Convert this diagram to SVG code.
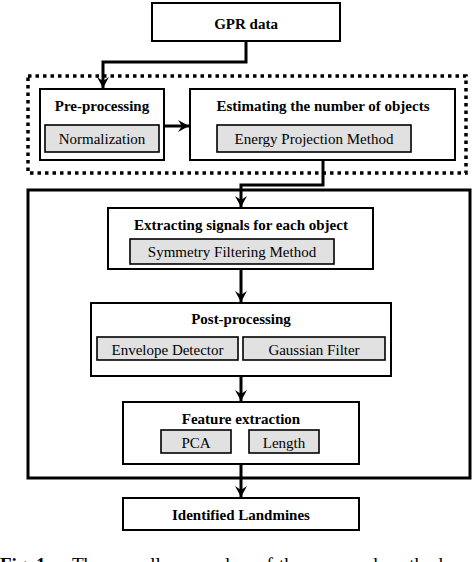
<svg xmlns="http://www.w3.org/2000/svg" width="474" height="562" viewBox="0 0 474 562">
<style>
.box{fill:#fff;stroke:#000;stroke-width:2}
.sub{fill:#e1e1e1;stroke:#000;stroke-width:1.6}
.t{font-family:'Liberation Serif',Tinos,'Times New Roman','DejaVu Serif',serif;font-size:15px;text-anchor:middle;fill:#000}
.b{font-weight:bold}
.con{fill:none;stroke:#000;stroke-width:3}
.cap{font-family:'Liberation Serif',Tinos,'Times New Roman','DejaVu Serif',serif;font-size:19px;fill:#000}
</style>
<defs>
<marker id="ah" markerUnits="userSpaceOnUse" markerWidth="16" markerHeight="16" viewBox="-12 -8 14 16" refX="0" refY="0" orient="auto">
<path d="M0,0 L-11,-6 L-7,0 L-11,6 Z" fill="#000"/>
</marker>
</defs>
<rect x="0" y="0" width="474" height="562" fill="#fff"/>

<g id="group-estimation">
<rect x="28" y="76" width="438" height="97" fill="none" stroke="#000" stroke-width="3.5" stroke-dasharray="3.5 4"/>
</g>
<g id="group-main">
<rect x="28" y="190" width="442" height="288" fill="none" stroke="#000" stroke-width="3"/>
</g>

<g id="gpr">
<rect class="box" x="152" y="3" width="188" height="38"/>
<text class="t b" x="246" y="29">GPR data</text>
</g>

<g id="preprocessing">
<rect class="box" x="40" y="89" width="124" height="71"/>
<text class="t b" x="102" y="111">Pre-processing</text>
<rect class="sub" x="45" y="125" width="114" height="27"/>
<text class="t" x="102" y="144">Normalization</text>
</g>

<g id="estimating">
<rect class="box" x="190" y="89" width="265" height="71"/>
<text class="t b" x="323" y="111">Estimating the number of objects</text>
<rect class="sub" x="217" y="125" width="194" height="27"/>
<text class="t" x="314" y="144">Energy Projection Method</text>
</g>

<g id="extracting">
<rect class="box" x="108" y="208" width="265" height="61"/>
<text class="t b" x="241" y="230">Extracting signals for each object</text>
<rect class="sub" x="130" y="239" width="204" height="25"/>
<text class="t" x="232" y="257">Symmetry Filtering Method</text>
</g>

<g id="postprocessing">
<rect class="box" x="91" y="303" width="300" height="73"/>
<text class="t b" x="241" y="324">Post-processing</text>
<rect class="sub" x="97" y="337" width="141" height="23"/>
<text class="t" x="167.5" y="355">Envelope Detector</text>
<rect class="sub" x="243" y="337" width="142" height="23"/>
<text class="t" x="314" y="355">Gaussian Filter</text>
</g>

<g id="feature">
<rect class="box" x="123" y="402" width="236" height="62"/>
<text class="t b" x="241" y="424">Feature extraction</text>
<rect class="sub" x="161" y="430" width="70" height="23"/>
<text class="t" x="196" y="448">PCA</text>
<rect class="sub" x="249" y="430" width="70" height="23"/>
<text class="t" x="284" y="448">Length</text>
</g>

<g id="identified">
<rect class="box" x="123" y="498" width="236" height="32"/>
<text class="t b" x="241" y="520">Identified Landmines</text>
</g>

<g id="connectors">
<path class="con" d="M246,41 V62 H103 V88" marker-end="url(#ah)"/>
<path class="con" d="M164,126 H189" marker-end="url(#ah)"/>
<path class="con" d="M323,160 V185 H241 V207" marker-end="url(#ah)"/>
<path class="con" d="M241,269 V302" marker-end="url(#ah)"/>
<path class="con" d="M241,376 V401" marker-end="url(#ah)"/>
<path class="con" d="M241,464 V497" marker-end="url(#ah)"/>
</g>

<text class="cap" y="571"><tspan x="0" font-weight="bold">Fig. 1.</tspan><tspan x="72">The</tspan><tspan x="108">overall</tspan><tspan x="178">procedure</tspan><tspan x="257">of</tspan><tspan x="279">the</tspan><tspan x="308">proposed</tspan><tspan x="386">method</tspan></text>
</svg>
